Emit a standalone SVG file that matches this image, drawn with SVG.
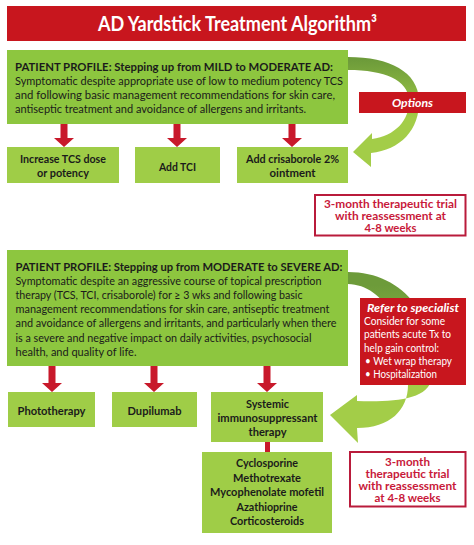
<svg xmlns="http://www.w3.org/2000/svg" width="474" height="545" viewBox="0 0 474 545">
  <defs>
    <style>
      .red { fill: #c8161e; }
      .big { fill: #8dc63f; }
      .small { fill: #9fcd47; }
      .t { font-family: Lato, "Liberation Sans", sans-serif; font-size: 12px; fill: #1b1b1b; }
      .b { font-weight: bold; }
      .c { text-anchor: middle; }
      .w { fill: #ffffff; }
      .rs { font-family: Lato, "Liberation Sans", sans-serif; font-size: 11px; fill: #ffffff; }
      .ttl { font-family: Lato, "Liberation Sans", sans-serif; font-size: 20px; font-weight: bold; fill: #ffffff; }
      .rt { font-family: Lato, "Liberation Sans", sans-serif; font-size: 11px; font-weight: bold; fill: #c8193a; text-anchor: middle; }
      .trial { fill: #ffffff; stroke: #b91b3b; stroke-width: 2; }
      .arr { fill: #c8192b; }
    </style>
    <linearGradient id="g1" gradientUnits="userSpaceOnUse" x1="0" y1="60" x2="0" y2="118">
      <stop offset="0" stop-color="#6d9b3a"/>
      <stop offset="1" stop-color="#a3cd48"/>
    </linearGradient>
    <linearGradient id="g2" gradientUnits="userSpaceOnUse" x1="0" y1="285" x2="0" y2="388">
      <stop offset="0" stop-color="#6d9b3a"/>
      <stop offset="1" stop-color="#a3cd48"/>
    </linearGradient>
  </defs>

  <rect width="474" height="545" fill="#ffffff"/>

  <g id="connectors">
    <path d="M 348 57 C 390 57, 418 72, 419 100 C 420 130, 400 150, 371 153 L 371 167 L 353 152 L 372 133 L 372 139 C 395 136, 410 120, 409 100 C 408 80, 385 70, 348 70 Z" fill="url(#g1)"/>
    <path d="M 348 272 C 405 272, 440 320, 432 378 C 428 400, 395 402, 357 401 L 357 395 L 330 415 L 358 443 L 357 428 C 390 428, 408 410, 408 385 C 408 330, 385 285, 348 284 Z" fill="url(#g2)"/>
    <polygon class="arr" points="60.5,124 67.5,124 67.5,138 74,138 64,147 54,138 60.5,138"/>
    <polygon class="arr" points="173.5,124 180.5,124 180.5,138 187,138 177,147 167,138 173.5,138"/>
    <polygon class="arr" points="288.5,124 295.5,124 295.5,138 302,138 292,147 282,138 288.5,138"/>
    <polygon class="arr" points="48.5,366 55.5,366 55.5,383 62,383 52,392 42,383 48.5,383"/>
    <polygon class="arr" points="150.5,366 157.5,366 157.5,383 164,383 154,392 144,383 150.5,383"/>
    <polygon class="arr" points="263.5,366 270.5,366 270.5,383 277,383 267,392 257,383 263.5,383"/>
    <rect class="arr" x="265" y="442" width="5" height="10"/>
  </g>

  <g id="title">
    <rect class="red" x="7" y="6" width="459" height="35"/>
    <text class="ttl" x="98" y="31" textLength="279" lengthAdjust="spacingAndGlyphs">AD Yardstick Treatment Algorithm³</text>
  </g>

  <g id="profile-mild">
    <rect class="big" x="7" y="50" width="341" height="74"/>
    <text class="t b" x="15" y="71" textLength="318" lengthAdjust="spacingAndGlyphs">PATIENT PROFILE: Stepping up from MILD to MODERATE AD:</text>
    <text class="t" x="15" y="85" textLength="328" lengthAdjust="spacingAndGlyphs">Symptomatic despite appropriate use of low to medium potency TCS</text>
    <text class="t" x="15" y="99" textLength="320" lengthAdjust="spacingAndGlyphs">and following basic management recommendations for skin care,</text>
    <text class="t" x="15" y="113" textLength="291" lengthAdjust="spacingAndGlyphs">antiseptic treatment and avoidance of allergens and irritants.</text>
  </g>

  <g id="options">
    <rect class="red" x="359" y="92" width="107" height="21"/>
    <text class="t b w c" x="412.5" y="107" font-style="italic" textLength="41" lengthAdjust="spacingAndGlyphs">Options</text>
  </g>

  <g id="increase-tcs">
    <rect class="small" x="7" y="147" width="112" height="36"/>
    <text class="t b c" x="63" y="163" textLength="86" lengthAdjust="spacingAndGlyphs">Increase TCS dose</text>
    <text class="t b c" x="63" y="177" textLength="52" lengthAdjust="spacingAndGlyphs">or potency</text>
  </g>

  <g id="add-tci">
    <rect class="small" x="135" y="147" width="85" height="36"/>
    <text class="t b c" x="177.5" y="171" textLength="37" lengthAdjust="spacingAndGlyphs">Add TCI</text>
  </g>

  <g id="add-crisaborole">
    <rect class="small" x="237" y="147" width="111" height="36"/>
    <text class="t b c" x="292.5" y="163" textLength="93" lengthAdjust="spacingAndGlyphs">Add crisaborole 2%</text>
    <text class="t b c" x="292.5" y="177" textLength="46" lengthAdjust="spacingAndGlyphs">ointment</text>
  </g>

  <g id="trial-1">
    <rect class="trial" x="315" y="195" width="150.5" height="40.5"/>
    <text class="rt" x="390.5" y="207.5" textLength="133" lengthAdjust="spacingAndGlyphs">3-month therapeutic trial</text>
    <text class="rt" x="390.5" y="219.5" textLength="111" lengthAdjust="spacingAndGlyphs">with reassessment at</text>
    <text class="rt" x="390.5" y="231.5" textLength="52" lengthAdjust="spacingAndGlyphs">4-8 weeks</text>
  </g>

  <g id="profile-moderate">
    <rect class="big" x="7" y="250" width="341" height="116"/>
    <text class="t b" x="15.5" y="271" textLength="327" lengthAdjust="spacingAndGlyphs">PATIENT PROFILE: Stepping up from MODERATE to SEVERE AD:</text>
    <text class="t" x="15.5" y="284.5" textLength="306" lengthAdjust="spacingAndGlyphs">Symptomatic despite an aggressive course of topical prescription</text>
    <text class="t" x="15.5" y="298.8" textLength="287" lengthAdjust="spacingAndGlyphs">therapy (TCS, TCI, crisaborole) for ≥ 3 wks and following basic</text>
    <text class="t" x="15.5" y="313.1" textLength="314" lengthAdjust="spacingAndGlyphs">management recommendations for skin care, antiseptic treatment</text>
    <text class="t" x="15.5" y="327.4" textLength="321" lengthAdjust="spacingAndGlyphs">and avoidance of allergens and irritants, and particularly when there</text>
    <text class="t" x="15.5" y="341.7" textLength="296" lengthAdjust="spacingAndGlyphs">is a severe and negative impact on daily activities, psychosocial</text>
    <text class="t" x="15.5" y="356" textLength="121" lengthAdjust="spacingAndGlyphs">health, and quality of life.</text>
  </g>

  <g id="refer-specialist">
    <rect class="red" x="360" y="298" width="106" height="87"/>
    <text class="t b w c" x="413" y="311.5" font-style="italic" textLength="92" lengthAdjust="spacingAndGlyphs">Refer to specialist</text>
    <text class="rs" x="364" y="325" textLength="81" lengthAdjust="spacingAndGlyphs">Consider for some</text>
    <text class="rs" x="364" y="338.3" textLength="87" lengthAdjust="spacingAndGlyphs">patients acute Tx to</text>
    <text class="rs" x="364" y="351.6" textLength="75" lengthAdjust="spacingAndGlyphs">help gain control:</text>
    <text class="rs" x="365" y="364.9" textLength="87" lengthAdjust="spacingAndGlyphs">• Wet wrap therapy</text>
    <text class="rs" x="365" y="378.2" textLength="72" lengthAdjust="spacingAndGlyphs">• Hospitalization</text>
  </g>

  <g id="phototherapy">
    <rect class="small" x="8" y="392" width="87" height="35"/>
    <text class="t b c" x="51.5" y="415" textLength="68" lengthAdjust="spacingAndGlyphs">Phototherapy</text>
  </g>

  <g id="dupilumab">
    <rect class="small" x="112" y="392" width="85" height="35"/>
    <text class="t b c" x="154.5" y="415" textLength="54" lengthAdjust="spacingAndGlyphs">Dupilumab</text>
  </g>

  <g id="systemic">
    <rect class="small" x="211" y="392" width="112" height="50"/>
    <text class="t b c" x="267.5" y="408" textLength="43" lengthAdjust="spacingAndGlyphs">Systemic</text>
    <text class="t b c" x="267.5" y="422" textLength="100" lengthAdjust="spacingAndGlyphs">immunosuppressant</text>
    <text class="t b c" x="267.5" y="436" textLength="38" lengthAdjust="spacingAndGlyphs">therapy</text>
  </g>

  <g id="agents">
    <rect class="small" x="202" y="452" width="130" height="81"/>
    <text class="t b c" x="267" y="467" textLength="62" lengthAdjust="spacingAndGlyphs">Cyclosporine</text>
    <text class="t b c" x="267" y="481.5" textLength="68" lengthAdjust="spacingAndGlyphs">Methotrexate</text>
    <text class="t b c" x="267" y="496" textLength="114" lengthAdjust="spacingAndGlyphs">Mycophenolate mofetil</text>
    <text class="t b c" x="267" y="510.5" textLength="61" lengthAdjust="spacingAndGlyphs">Azathioprine</text>
    <text class="t b c" x="267" y="525" textLength="74" lengthAdjust="spacingAndGlyphs">Corticosteroids</text>
  </g>

  <g id="trial-2">
    <rect class="trial" x="350" y="452" width="115.5" height="54.5"/>
    <text class="rt" x="407.5" y="466" textLength="45" lengthAdjust="spacingAndGlyphs">3-month</text>
    <text class="rt" x="407.5" y="478" textLength="84" lengthAdjust="spacingAndGlyphs">therapeutic trial</text>
    <text class="rt" x="407.5" y="490" textLength="98" lengthAdjust="spacingAndGlyphs">with reassessment</text>
    <text class="rt" x="407.5" y="502" textLength="66" lengthAdjust="spacingAndGlyphs">at 4-8 weeks</text>
  </g>
</svg>
